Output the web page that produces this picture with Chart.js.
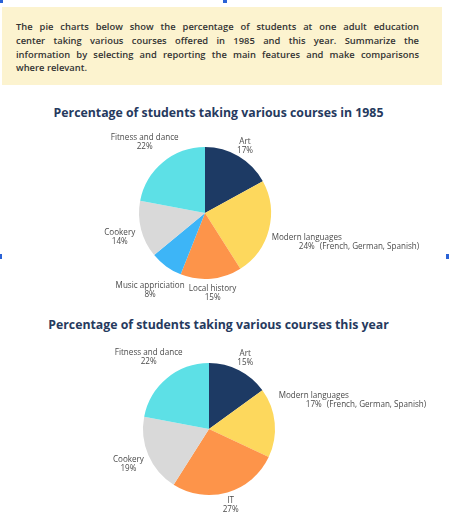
<!DOCTYPE html>
<html>
<head>
<meta charset="utf-8">
<script src="https://cdn.jsdelivr.net/npm/chart.js@4"></script>
<style>
  body { margin: 0; width: 449px; height: 512px; background: #fff; position: relative; overflow: hidden; font-family: "Open Sans", sans-serif; }
  .prompt { position: absolute; left: 2px; top: 7px; width: 440px; height: 78px; background: #fcf3cf; }
  .prompt div { position: absolute; left: 14px; width: 403px; font-size: 9.4px; font-weight: 600; color: #333; text-align: justify; text-align-last: justify; white-space: nowrap; }
  .prompt div.last { text-align-last: left; }
  .title { position: absolute; left: 0; width: 437px; text-align: center; font-weight: 700; font-size: 12.3px; color: #263a5e; }
  canvas { position: absolute; left: 0; }
  .mark { position: absolute; background: #2a62d6; }
</style>
</head>
<body>
<div class="mark" style="left:0;top:0;width:3px;height:3px"></div>
<div class="mark" style="left:223px;top:0;width:4px;height:3px"></div>
<div class="mark" style="left:0;top:254px;width:2px;height:5px"></div>
<div class="mark" style="left:446px;top:254px;width:3px;height:5px"></div>

<div class="prompt">
  <div style="top:13px">The pie charts below show the percentage of students at one adult education</div>
  <div style="top:27px">center taking various courses offered in 1985 and this year. Summarize the</div>
  <div style="top:41px">information by selecting and reporting the main features and make comparisons</div>
  <div class="last" style="top:54px">where relevant.</div>
</div>

<div class="title" style="top:104px">Percentage of students taking various courses in 1985</div>
<canvas id="pie1985" width="449" height="180" style="top:130px"></canvas>

<div class="title" style="top:316px">Percentage of students taking various courses this year</div>
<canvas id="pieNow" width="449" height="182" style="top:330px"></canvas>

<script>
const courses1985 = ['Art', 'Modern languages', 'Local history', 'Music appriciation', 'Cookery', 'Fitness and dance'];
const share1985 = [17, 24, 15, 8, 14, 22];
const colors1985 = ['#1d3a64', '#fdd85d', '#fd944a', '#3db5f7', '#d9d9d9', '#5de0e6'];

const coursesNow = ['Art', 'Modern languages', 'IT', 'Cookery', 'Fitness and dance'];
const shareNow = [15, 17, 27, 19, 22];
const colorsNow = ['#1d3a64', '#fdd85d', '#fd944a', '#d9d9d9', '#5de0e6'];

const langNote = '(French, German, Spanish)';

// draws "name / xx%" outside each slice
const outsideLabels = {
  id: 'outsideLabels',
  afterDatasetsDraw(chart, args, opts) {
    const ctx = chart.ctx;
    const meta = chart.getDatasetMeta(0);
    const values = chart.data.datasets[0].data;
    ctx.save();
    ctx.font = '8.1px "Open Sans"';
    ctx.fillStyle = '#4a4a4a';
    ctx.textBaseline = 'middle';
    meta.data.forEach((arc, i) => {
      const p = arc.getProps(['x', 'y', 'startAngle', 'endAngle', 'outerRadius'], true);
      const mid = (p.startAngle + p.endAngle) / 2;
      const dx = Math.cos(mid), dy = Math.sin(mid);
      const name = chart.data.labels[i];
      const pct = values[i] + '%';
      const hw = Math.max(ctx.measureText(name).width, ctx.measureText(pct).width) / 2;
      const hh = 9;
      const d = Math.min(hw / Math.max(Math.abs(dx), 1e-6), hh / Math.max(Math.abs(dy), 1e-6));
      const dist = p.outerRadius + 6 + d;
      const nudge = (opts.nudge && opts.nudge[i]) || [0, 0];
      const cx = p.x + dx * dist + nudge[0];
      const cy = p.y + dy * dist + nudge[1];
      ctx.textAlign = 'center';
      ctx.fillText(name, cx, cy - 4.5);
      ctx.fillText(pct, cx, cy + 4.5);
      if (name === 'Modern languages') {
        ctx.textAlign = 'left';
        ctx.fillText(langNote, cx + ctx.measureText(pct).width / 2 + 5, cy + 4.5);
      }
    });
    ctx.restore();
  }
};

function makePie(id, labels, values, colors, padding, nudge) {
  return new Chart(document.getElementById(id), {
    type: 'pie',
    data: {
      labels: labels,
      datasets: [{
        data: values,
        backgroundColor: colors,
        borderWidth: 0
      }]
    },
    options: {
      responsive: false,
      animation: false,
      layout: { padding: padding },
      plugins: {
        legend: { display: false },
        tooltip: { enabled: false },
        outsideLabels: { nudge: nudge }
      }
    },
    plugins: [outsideLabels]
  });
}

makePie('pie1985', courses1985, share1985, colors1985,
  { left: 139, right: 178, top: 17, bottom: 31 },
  [[-2, 4], [-3, 2], [0, 0], [-6, 10], [0, 2], [-7, -6]]);

makePie('pieNow', coursesNow, shareNow, colorsNow,
  { left: 143, right: 174, top: 33, bottom: 17 },
  [[-1, 2], [-2, -19], [-1, -2], [1, 0], [-7, -7]]);
</script>
</body>
</html>
